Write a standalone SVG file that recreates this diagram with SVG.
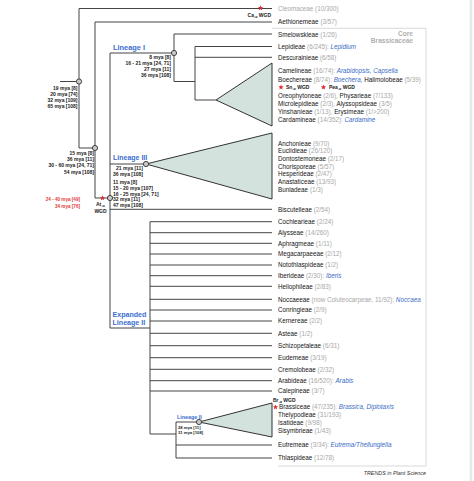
<svg xmlns="http://www.w3.org/2000/svg" width="474" height="481" viewBox="0 0 474 481">
<style>
.ln{stroke:#444;stroke-width:1;fill:none}
.box{stroke:#cfcfcf;stroke-width:0.8;fill:none}
.tri{fill:#d3e2dc;stroke:#333;stroke-width:1}
.nd{fill:#c9c9c9;stroke:#333;stroke-width:0.9}
text{font-family:"Liberation Sans",Arial,sans-serif}
.t{font-size:6.3px;fill:#151515}
.c{fill:#a8a8a8}
.g{fill:#3a6cc6;font-style:italic}
.m{font-size:5px;font-weight:bold;fill:#222}
.ms{font-size:4.2px;font-weight:bold;fill:#222}
.r{fill:#e03a3a;font-size:4.6px}
.lin{font-size:7.4px;font-weight:bold;fill:#3a6fd0}
.wgd{font-size:5px;font-weight:bold;fill:#222}
.sub{font-size:3.6px}
.core{font-size:6.6px;font-weight:bold;fill:#b0b0b0}
</style>
<defs>
<path id="star" d="M0,-2.8 L0.68,-0.93 L2.66,-0.87 L1.09,0.36 L1.65,2.27 L0,1.15 L-1.65,2.27 L-1.09,0.36 L-2.66,-0.87 L-0.68,-0.93 Z" fill="#e0282e"/>
</defs>
<rect width="474" height="481" fill="#fff"/>
<line x1="471" y1="0" x2="471" y2="481" stroke="#e8e8e8" stroke-width="2.5"/>
<g id="core-box">
<path class="box" d="M272,28.3 H426 V466 H278"/>
<text class="core" x="413" y="35.5" text-anchor="end">Core</text>
<text class="core" x="413" y="43" text-anchor="end">Brassicaceae</text>
</g>
<g id="connectors">
<path class="ln" d="M60,81.5 H79 M79,8.5 V148 H95 M79,8.5 H272 M95,22 V198 H110 M95,22 H272 M110,53 V328 H150 M110,53 H174 M174,34 V81.5 H195 M174,34 H272 M195,46.5 V100 H216 M195,46.5 H272 M195,57.3 H272 M110,164 H146 M110,209.3 H272 M150,221.7 V434 H176 M176,422 V458 M176,422 H199 M176,445 H272 M176,458 H272"/>
<path class="ln" d="M150,221.7 H272 M150,232.7 H272 M150,243.3 H272 M150,254 H272 M150,265 H272 M150,275.7 H272 M150,286.3 H272 M150,299.3 H272 M150,310 H272 M150,321 H272 M150,333.3 H272 M150,345.7 H272 M150,357.7 H272 M150,369.3 H272 M150,380.7 H272 M150,391 H272"/>
</g>
<g id="root">
<circle class="nd" cx="79" cy="81.5" r="2.6"/>
<text class="m" text-anchor="end"><tspan x="77.5" y="90.3">19 mya [8]</tspan><tspan x="77.5" y="96.3">20 mya [74]</tspan><tspan x="77.5" y="102">32 mya [109]</tspan><tspan x="77.5" y="108">65 mya [108]</tspan></text>
</g>
<g id="cleomaceae">
<use href="#star" x="260.5" y="8"/>
<text class="wgd" x="271" y="16.5" text-anchor="end">Ca<tspan class="sub" dy="1">-α</tspan><tspan dy="-1"> WGD</tspan></text>
<text class="t c" x="278" y="10.7">Cleomaceae (10/300)</text>
</g>
<g id="brassicaceae-node">
<circle class="nd" cx="95" cy="148" r="2.6"/>
<text class="m" text-anchor="end"><tspan x="94" y="155.3">15 mya [8]</tspan><tspan x="94" y="161.3">36 mya [11]</tspan><tspan x="94" y="167.3">30 - 60 mya [24, 71]</tspan><tspan x="94" y="173.7">54 mya [108]</tspan></text>
</g>
<g id="aethionemeae"><text class="t" x="278" y="24.2">Aethionemeae <tspan class="c">(3/57)</tspan></text></g>
<g id="core-node">
<circle class="nd" cx="110" cy="198" r="2.6"/>
<use href="#star" x="102.5" y="198"/>
<text class="m r" text-anchor="end"><tspan x="80" y="201">24 - 40 mya [49]</tspan><tspan x="80" y="207.5">34 mya [76]</tspan></text>
<text class="wgd" x="96" y="205.5">At<tspan class="sub" dy="1">-α</tspan></text>
<text class="wgd" x="100.5" y="213" text-anchor="middle">WGD</text>
<text class="m"><tspan x="113" y="183.7">11 mya [8]</tspan><tspan x="113" y="189.7">15 - 20 mya [107]</tspan><tspan x="113" y="195.5">16 - 25 mya [24, 71]</tspan><tspan x="113" y="201.3">32 mya [11]</tspan><tspan x="113" y="207.3">47 mya [108]</tspan></text>
</g>
<g id="lineage-I">
<text class="lin" x="113" y="50.4">Lineage I</text>
<circle class="nd" cx="174" cy="53" r="2.6"/>
<text class="m" text-anchor="end"><tspan x="171" y="59.3">8 mya [8]</tspan><tspan x="171" y="65.3">16 - 21 mya [24, 71]</tspan><tspan x="171" y="71.3">27 mya [11]</tspan><tspan x="171" y="77.3">36 mya [108]</tspan></text>
</g>
<g id="smelowskieae"><text class="t" x="278" y="36.5">Smelowskieae <tspan class="c">(1/26)</tspan></text></g>
<g id="lepidieae"><text class="t" x="278" y="48.7">Lepidieae <tspan class="c">(6/245):</tspan> <tspan class="g">Lepidium</tspan></text></g>
<g id="descurainieae"><text class="t" x="278" y="59.5">Descurainieae <tspan class="c">(6/58)</tspan></text></g>
<g id="lineage-I-clade">
<polygon class="tri" points="216,100 272,63 272,126"/>
<text class="t" x="278" y="73.2">Camelineae <tspan class="c">(16/74):</tspan> <tspan class="g">Arabidopsis, Capsella</tspan></text>
<text class="t" x="278" y="81.5">Boechereae <tspan class="c">(8/74):</tspan> <tspan class="g">Boechera,</tspan> Halimolobeae <tspan class="c">(5/39)</tspan></text>
<use href="#star" x="281" y="87.3"/>
<text class="wgd" x="286" y="89.3">Sn<tspan class="sub" dy="1">-α</tspan><tspan dy="-1"> WGD</tspan></text>
<use href="#star" x="323.5" y="87.3"/>
<text class="wgd" x="329" y="89.3">Pea<tspan class="sub" dy="1">-α</tspan><tspan dy="-1"> WGD</tspan></text>
<text class="t" x="278" y="97.5">Oreophytoneae <tspan class="c">(2/6),</tspan> Physarieae <tspan class="c">(7/133)</tspan></text>
<text class="t" x="278" y="105.5">Microlepidieae <tspan class="c">(2/3),</tspan> Alyssopsideae <tspan class="c">(3/5)</tspan></text>
<text class="t" x="278" y="113.9">Yinshanieae <tspan class="c">(1/13),</tspan> Erysimeae <tspan class="c">(1/&gt;200)</tspan></text>
<text class="t" x="278" y="121.5">Cardamineae <tspan class="c">(14/352):</tspan> <tspan class="g">Cardamine</tspan></text>
</g>
<g id="lineage-III">
<text class="lin" style="font-size:7px" x="113" y="160">Lineage III</text>
<polygon class="tri" points="146,164 272,133 272,199"/>
<circle class="nd" cx="146" cy="164" r="2.6"/>
<text class="m" text-anchor="end"><tspan x="143" y="170.3">21 mya [11]</tspan><tspan x="143" y="176.2">36 mya [108]</tspan></text>
<text class="t" x="278" y="145.5">Anchonieae <tspan class="c">(9/70)</tspan></text>
<text class="t" x="278" y="153.2">Euclidieae <tspan class="c">(26/120)</tspan></text>
<text class="t" x="278" y="160.9">Dontostemoneae <tspan class="c">(2/17)</tspan></text>
<text class="t" x="278" y="168.5">Chorisporeae <tspan class="c">(5/57)</tspan></text>
<text class="t" x="278" y="176.2">Hesperideae <tspan class="c">(2/47)</tspan></text>
<text class="t" x="278" y="183.9">Anastaticeae <tspan class="c">(13/93)</tspan></text>
<text class="t" x="278" y="191.9">Buniadeae <tspan class="c">(1/3)</tspan></text>
</g>
<g id="expanded-lineage-II">
<text class="lin" style="font-size:7.1px"><tspan x="112.5" y="316.5">Expanded</tspan><tspan x="112.5" y="325.2">Lineage II</tspan></text>
</g>
<g id="tribes-expanded">
<text class="t" x="278" y="211.5">Biscutelleae <tspan class="c">(2/54)</tspan></text>
<text class="t" x="278" y="223.9">Cochlearieae <tspan class="c">(2/24)</tspan></text>
<text class="t" x="278" y="234.9">Alysseae <tspan class="c">(14/260)</tspan></text>
<text class="t" x="278" y="245.5">Aphragmeae <tspan class="c">(1/11)</tspan></text>
<text class="t" x="278" y="256.2">Megacarpaeeae <tspan class="c">(2/12)</tspan></text>
<text class="t" x="278" y="267.2">Notothlaspideae <tspan class="c">(1/2)</tspan></text>
<text class="t" x="278" y="277.9">Iberideae <tspan class="c">(2/30):</tspan> <tspan class="g">Iberis</tspan></text>
<text class="t" x="278" y="288.5">Heliophileae <tspan class="c">(2/83)</tspan></text>
<text class="t" x="278" y="301.5">Noccaeeae <tspan class="c">(now Coluteocarpeae, 11/92):</tspan> <tspan class="g">Noccaea</tspan></text>
<text class="t" x="278" y="312.2">Conringieae <tspan class="c">(2/9)</tspan></text>
<text class="t" x="278" y="323.2">Kernereae <tspan class="c">(2/2)</tspan></text>
<text class="t" x="278" y="335.5">Asteae <tspan class="c">(1/2)</tspan></text>
<text class="t" x="278" y="347.9">Schizopetaleae <tspan class="c">(6/31)</tspan></text>
<text class="t" x="278" y="359.9">Eudemeae <tspan class="c">(3/19)</tspan></text>
<text class="t" x="278" y="371.5">Cremolobeae <tspan class="c">(2/32)</tspan></text>
<text class="t" x="278" y="382.9">Arabideae <tspan class="c">(16/520):</tspan> <tspan class="g">Arabis</tspan></text>
<text class="t" x="278" y="393.2">Calepineae <tspan class="c">(3/7)</tspan></text>
</g>
<g id="lineage-II">
<polygon class="tri" points="199,422 272,403 272,437"/>
<circle class="nd" cx="199" cy="422" r="2.6"/>
<text class="lin" style="font-size:5.4px" x="177" y="419">Lineage II</text>
<text class="ms"><tspan x="178" y="429.3">28 mya [11]</tspan><tspan x="178" y="434.3">31 mya [108]</tspan></text>
<text class="wgd" x="273" y="401.5">Br<tspan class="sub" dy="1">-α</tspan><tspan dy="-1"> WGD</tspan></text>
<use href="#star" x="275.5" y="407.2"/>
<text class="t" x="279" y="409.2">Brassiceae <tspan class="c">(47/235):</tspan> <tspan class="g">Brassica, Diplotaxis</tspan></text>
<text class="t" x="278" y="416.5">Thelypodieae <tspan class="c">(31/193)</tspan></text>
<text class="t" x="278" y="424.9">Isatideae <tspan class="c">(9/98)</tspan></text>
<text class="t" x="278" y="432.9">Sisymbrieae <tspan class="c">(1/43)</tspan></text>
</g>
<g id="eutremeae"><text class="t" x="278" y="447.2">Eutremeae <tspan class="c">(3/34):</tspan> <tspan class="g">Eutrema/Thellungiella</tspan></text></g>
<g id="thlaspideae"><text class="t" x="278" y="460.2">Thlaspideae <tspan class="c">(12/78)</tspan></text></g>
<text x="426" y="475" text-anchor="end" style="font-size:5.4px;font-style:italic;fill:#333">TRENDS in Plant Science</text>
</svg>
